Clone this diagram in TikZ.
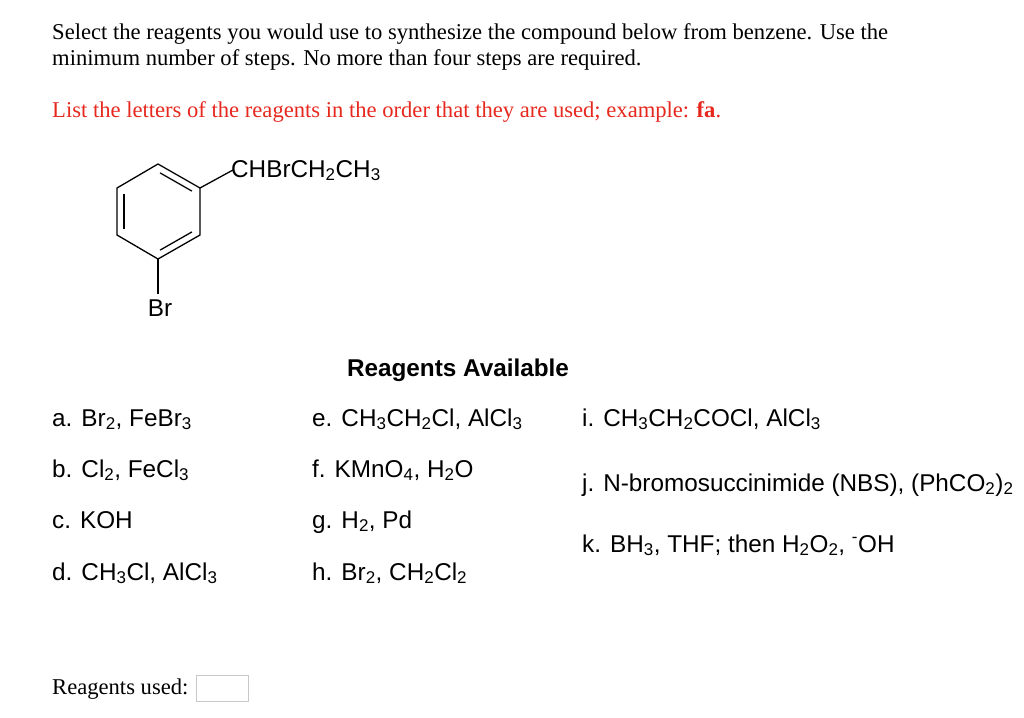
\documentclass[tikz,border=0pt]{standalone}
\usetikzlibrary{calc}
\usepackage{fontspec}
\setmainfont{Liberation Serif}
\newfontfamily\arial{Liberation Sans}
\newcommand\sbs[1]{\textsubscript{#1}}
\begin{document}
\begin{tikzpicture}[x=1pt,y=-1pt,
  ser/.style={anchor=base west,inner sep=0pt,font=\fontsize{22.6}{26}\selectfont},
  san/.style={anchor=base west,inner sep=0pt,font=\arial\fontsize{24.3}{28}\selectfont},
  bond/.style={line width=1.3pt}]
\useasboundingbox (0,0) rectangle (1024,717);
\node[ser] (l1) at (52,40) {Select the reagents you would use to synthesize the compound below from benzene. Use the};
\node[ser] (l2) at (52,66) {minimum number of steps. No more than four steps are required.};
\node[ser,text={rgb,255:red,230;green,40;blue,30}] (l3) at (52,117) {List the letters of the reagents in the order that they are used; example: \textbf{fa}.};
% ring
\coordinate (t) at (158,164);
\coordinate (ur) at (200,188);
\coordinate (lr) at (200,235);
\coordinate (b) at (158,259);
\coordinate (ll) at (117,235);
\coordinate (ul) at (117,188);
\draw[bond,line join=round] (t)--(ur)--(lr)--(b)--(ll)--(ul)--cycle;
\draw[bond] ($(t)!0.12!(ur)+(-3,6)$) -- ($(t)!0.88!(ur)+(-3,6)$);
\draw[bond] (124,194) -- (124,229);
\draw[bond] ($(lr)!0.12!(b)+(-3,-6)$) -- ($(lr)!0.88!(b)+(-3,-6)$);
\node[san,anchor=base west] (sub) at (231,177) {CHBrCH\sbs{2}CH\sbs{3}};
\draw[bond] (ur) -- (233,170);
\node[san,anchor=base] (br) at (160,316) {Br};
\draw[bond] (b) -- (158,294);
\node[san,anchor=base,font=\arial\bfseries\fontsize{24.3}{28}\selectfont] (ra) at (458,376) {Reagents Available};
\node[san] (a) at (52,426) {a. Br\sbs{2}, FeBr\sbs{3}};
\node[san] (bb) at (52,477) {b. Cl\sbs{2}, FeCl\sbs{3}};
\node[san] (c) at (52,528) {c. KOH};
\node[san] (d) at (52,580) {d. CH\sbs{3}Cl, AlCl\sbs{3}};
\node[san] (e) at (312,426) {e. CH\sbs{3}CH\sbs{2}Cl, AlCl\sbs{3}};
\node[san] (f) at (312,477) {f. KMnO\sbs{4}, H\sbs{2}O};
\node[san] (g) at (312,528) {g. H\sbs{2}, Pd};
\node[san] (h) at (312,580) {h. Br\sbs{2}, CH\sbs{2}Cl\sbs{2}};
\node[san] (i) at (582,426) {i. CH\sbs{3}CH\sbs{2}COCl, AlCl\sbs{3}};
\node[san] (j) at (582,491) {j. N-bromosuccinimide (NBS), (PhCO\sbs{2})\sbs{2}};
\node[san] (k) at (582,552) {k. BH\sbs{3}, THF; then H\sbs{2}O\sbs{2}, \textsuperscript{-}OH};
\node[ser] (ru) at (52,694) {Reagents used:};
\draw[draw={rgb,255:red,200;green,200;blue,200},line width=0.8pt] (196,675) rectangle (248,701);
\end{tikzpicture}
\end{document}
